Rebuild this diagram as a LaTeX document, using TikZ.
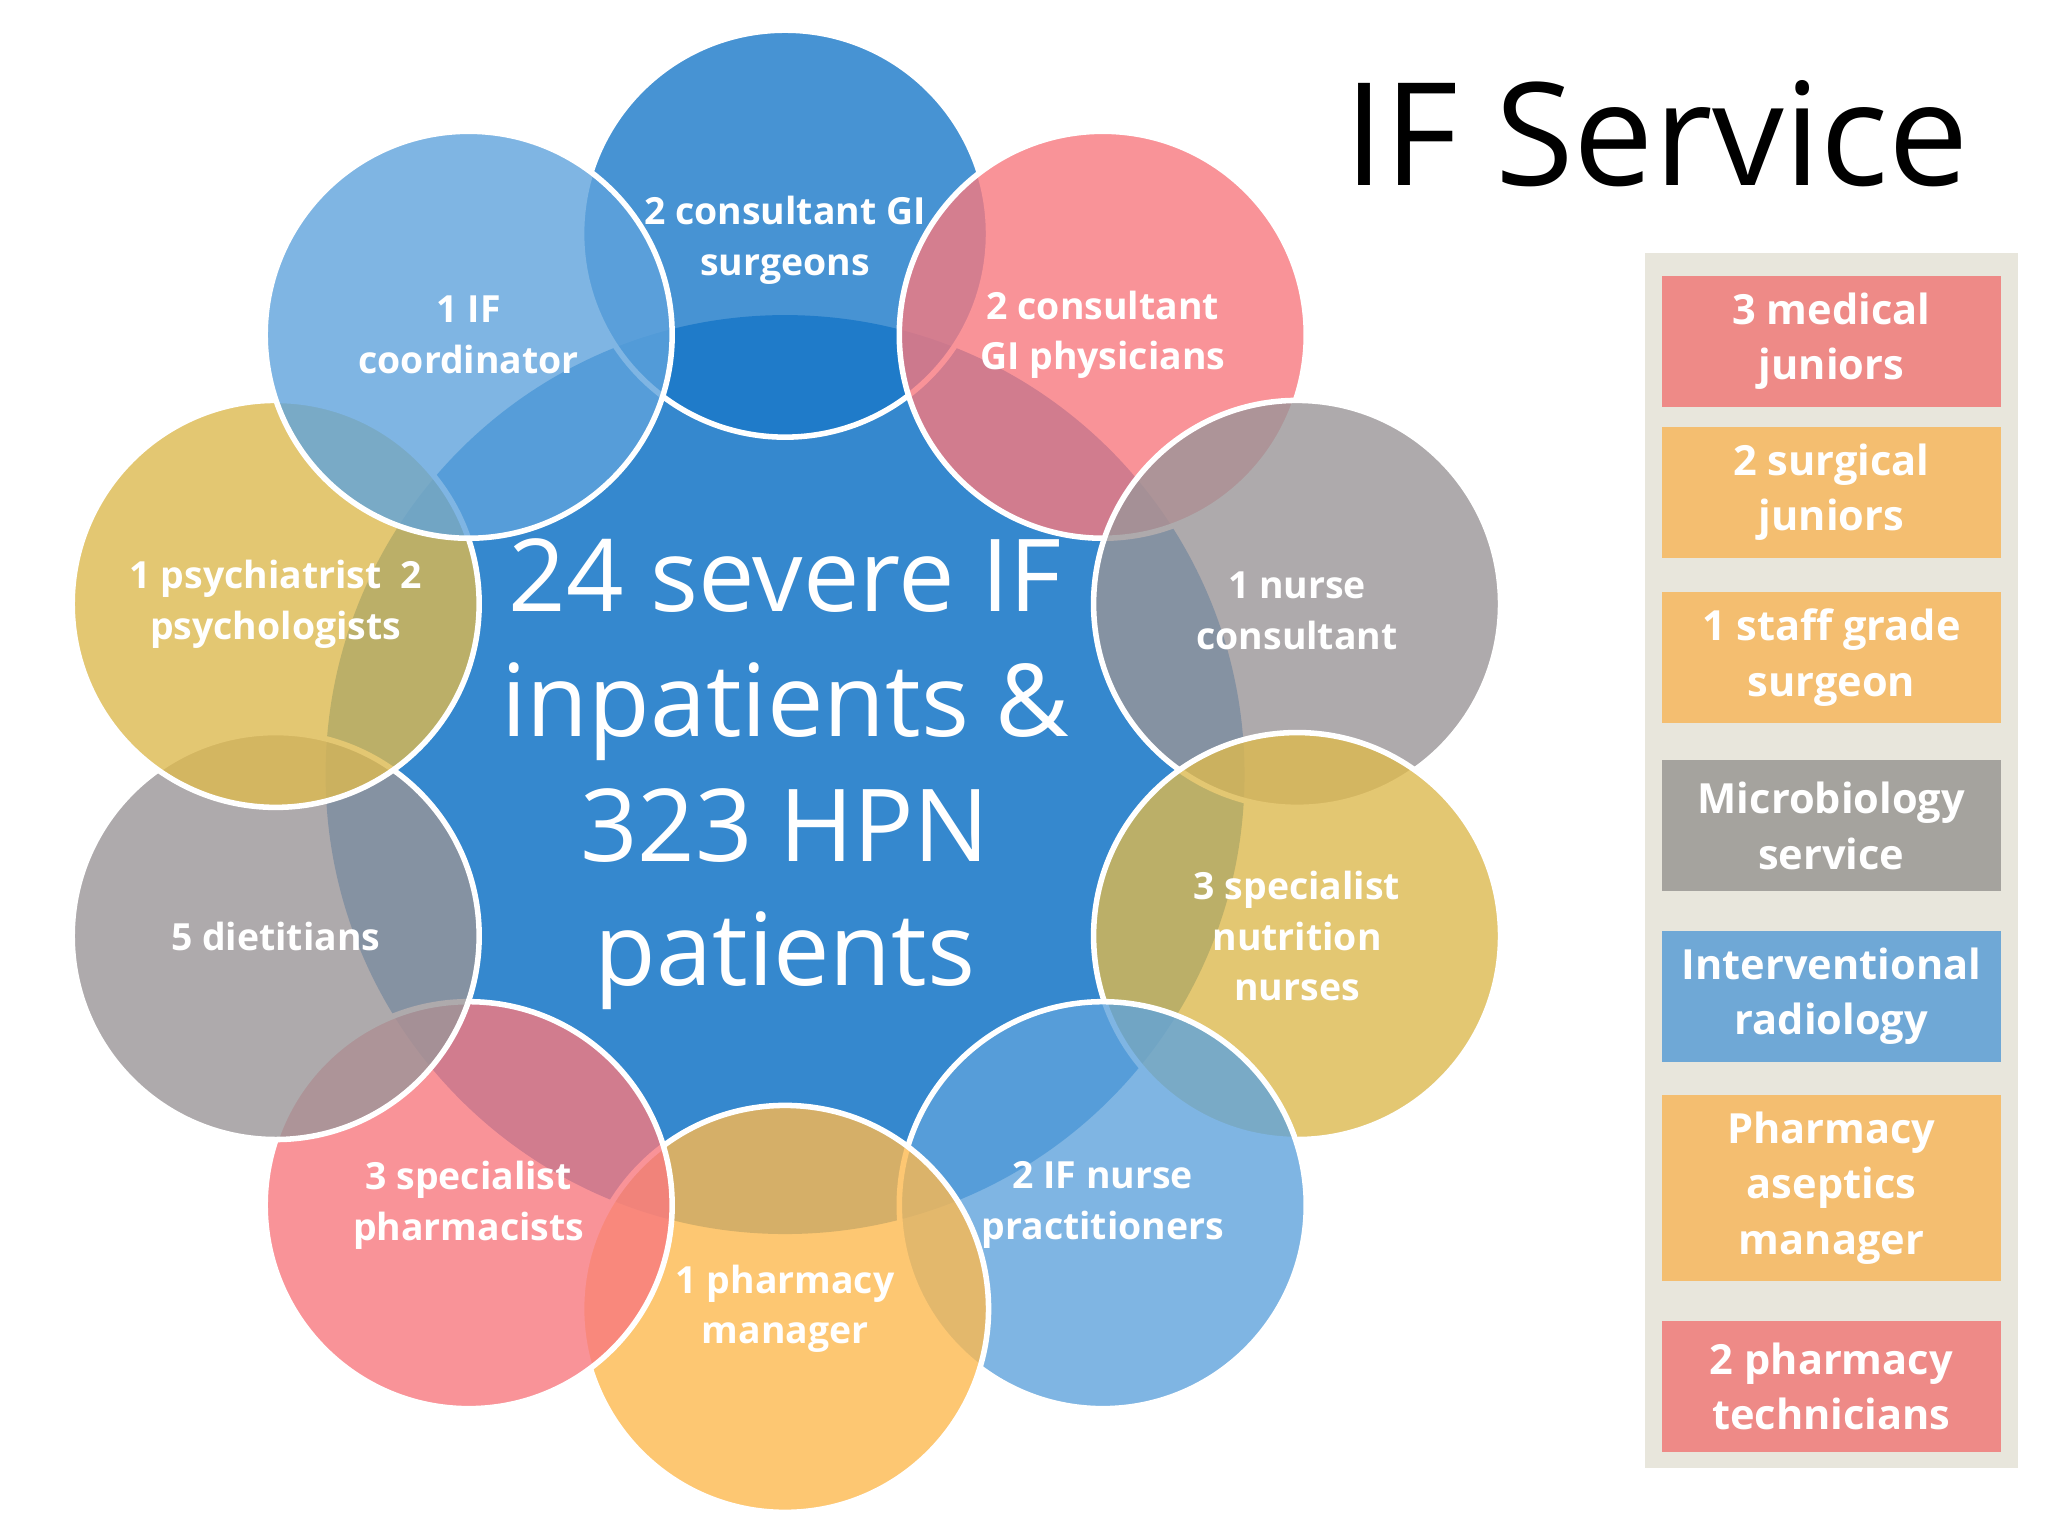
\documentclass[tikz,border=0pt]{standalone}
\usepackage{fontspec}
\setmainfont{Open Sans}
\begin{document}
\begin{tikzpicture}[x=0.01cm,y=-0.01cm,
  lab/.style={font=\bfseries\fontsize{8.1}{11}\selectfont,text=white,align=center},
  box/.style={minimum width=2.58cm,minimum height=1cm,inner sep=0pt,text=white,align=center,font=\bfseries\fontsize{9}{12}\selectfont}]
\definecolor{cb}{HTML}{1A78C8}\definecolor{lb}{HTML}{5FA3DC}
\definecolor{pk}{HTML}{F8797F}\definecolor{gy}{HTML}{9A9598}
\definecolor{gd}{HTML}{DDB94F}\definecolor{og}{HTML}{FDB94F}
\definecolor{bg}{HTML}{E8E6DC}\definecolor{bp}{HTML}{EE8A87}
\definecolor{bo}{HTML}{F4BE70}\definecolor{bgy}{HTML}{A5A39E}\definecolor{bb}{HTML}{6FA8D6}
\useasboundingbox (0,0) rectangle (1560,1170);
\fill[white] (0,0) rectangle (1560,1170);
\fill[cb,opacity=0.88] (598,590) circle (350);
\foreach \x/\y/\c [count=\i] in {598/178/cb,840/255/pk,988/460/gy,988/713/gd,840/918/lb,598/997/og,357/918/pk,210/713/gy,210/460/gd,357/255/lb}{
  \fill[\c,opacity=0.8] (\x,\y) circle (155);
  \draw[white,line width=1.2pt] (\x,\y) circle (155);
  \coordinate (s\i) at (\x,\y);
}
\node[lab] (t1) at (s1) [yshift=-0.05cm] {2 consultant GI\\surgeons};
\node[lab] (t2) at (s2) {2 consultant\\GI physicians};
\node[lab] (t3) at (s3) [yshift=-0.05cm] {1 nurse\\consultant};
\node[lab] (t4) at (s4) {3 specialist\\nutrition\\nurses};
\node[lab] (t5) at (s5) {2 IF nurse\\practitioners};
\node[lab] (t6) at (s6) {1 pharmacy\\manager};
\node[lab] (t7) at (s7) {3 specialist\\pharmacists};
\node[lab] (t8) at (s8) {5 dietitians};
\node[lab] (t9) at (s9) {1 psychiatrist\enspace 2\\psychologists};
\node[lab] (t10) at (s10) {1 IF\\coordinator};
\node[text=white,align=center,font=\fontsize{21.8}{27}\selectfont] (c) at (598,590) {24 severe IF\\inpatients \&\\323 HPN\\patients};
\node[font=\fontsize{31}{36}\selectfont,anchor=center] (title) at (1262,102) {IF Service};
\fill[bg] (1253,193) rectangle (1537,1118);
\node[box,fill=bp] (b1) at (1395,260) {3 medical\\juniors};
\node[box,fill=bo] (b2) at (1395,375) {2 surgical\\juniors};
\node[box,fill=bo] (b3) at (1395,501) {1 staff grade\\surgeon};
\node[box,fill=bgy] (b4) at (1395,629) {Microbiology\\service};
\node[box,fill=bb] (b5) at (1395,759) {Interventional\\radiology};
\node[box,fill=bo,minimum height=1.42cm] (b6) at (1395,905) {Pharmacy\\aseptics\\manager};
\node[box,fill=bp] (b7) at (1395,1056) {2 pharmacy\\technicians};
\end{tikzpicture}
\end{document}
